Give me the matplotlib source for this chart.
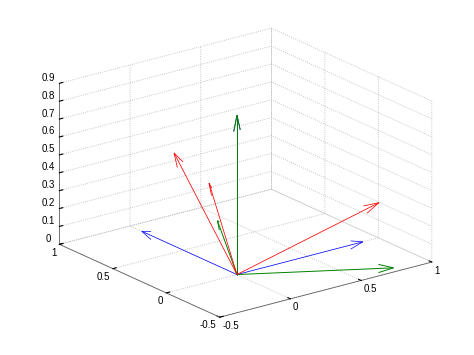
import numpy as np
import matplotlib.pyplot as plt

plt.rcParams['font.family'] = ['Liberation Sans', 'DejaVu Sans']
plt.rcParams['grid.linestyle'] = ':'
plt.rcParams['grid.color'] = '#b4b4b4'
plt.rcParams['grid.linewidth'] = 0.6

# frames (columns as vectors), all drawn from the origin
blue = [[1, 0, 0], [0, 1, 0], [0, 0, 1]]
green = [[0.866, -0.5, 0], [0.5, 0.866, 0], [0, 0, 1]]
red = [[0.75, -0.5, 0.433], [0.433, 0.866, 0.25], [-0.5, 0, 0.866]]
scale = 0.89

xticks = [-0.5, 0, 0.5, 1]
yticks = [-0.5, 0, 0.5, 1]
zticks = [0, 0.1, 0.2, 0.3, 0.4, 0.5, 0.6, 0.7, 0.8, 0.9]

fig = plt.figure(figsize=(4.74, 3.55), dpi=100)
ax = fig.add_axes([0.008, 0, 1, 1], projection='3d', proj_type='ortho')
ax.view_init(elev=20.1, azim=-127.1)
ax.set_box_aspect((1, 1, 0.645), zoom=1.13)
ax.computed_zorder = False

for vecs, col, lw in [(blue, 'blue', 0.5), (green, '#008000', 0.7), (red, 'red', 0.55)]:
    v = np.array(vecs, dtype=float)
    ax.quiver(np.zeros(3), np.zeros(3), np.zeros(3), v[:, 0], v[:, 1], v[:, 2],
              length=scale, color=col, linewidth=lw, arrow_length_ratio=0.1)

ax.set_xlim(-0.5, 1)
ax.set_ylim(-0.5, 1)
ax.set_zlim(0, 0.9)
ax.set_xticks(xticks)
ax.set_yticks(yticks)
ax.set_zticks(zticks)
fmt = lambda t: ('%g' % t)
ax.set_xticklabels([fmt(t) for t in xticks], ha='left')
ax.set_yticklabels([fmt(t) for t in yticks], ha='right')
ax.set_zticklabels([fmt(t) for t in zticks], va='bottom')
ax.tick_params(labelsize=7, pad=-6)
ax.tick_params(axis='z', pad=-4)

for axis in (ax.xaxis, ax.yaxis, ax.zaxis):
    axis.set_pane_color((1, 1, 1, 0))
    axis.pane.set_edgecolor('#d0d0d0')
    axis.line.set_color('#606060')
    axis.line.set_linewidth(0.6)
    axis._axinfo['tick']['inward_factor'] = 0.0
    axis._axinfo['tick']['outward_factor'] = 0.2
    axis._axinfo['tick']['color'] = '#606060'

fig.savefig('out.png', dpi=100)
